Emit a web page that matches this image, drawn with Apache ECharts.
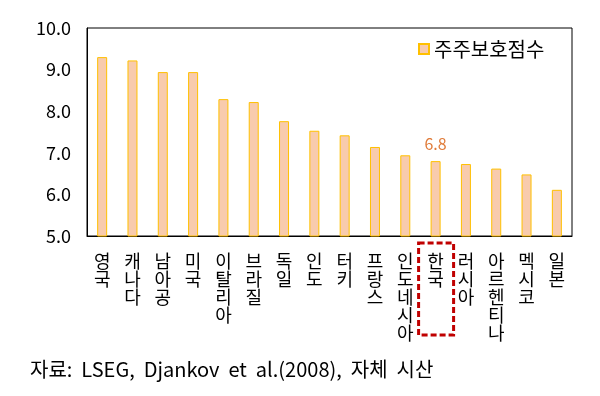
<!DOCTYPE html>
<html>
<head>
<meta charset="utf-8">
<script src="https://cdn.jsdelivr.net/npm/echarts@6/dist/echarts.min.js"></script>
<style>html,body{margin:0;padding:0;background:#fff;}#c{width:600px;height:396px;}</style>
</head>
<body>
<div id="c"></div>
<script>
const categories = ['영국','캐나다','남아공','미국','이탈리아','브라질','독일','인도','터키','프랑스','인도네시아','한국','러시아','아르헨티나','멕시코','일본'];
const scores = [9.30, 9.22, 8.94, 8.94, 8.29, 8.22, 7.76, 7.53, 7.42, 7.14, 6.94, 6.8, 6.73, 6.62, 6.48, 6.11];
const yTicks = [5, 6, 7, 8, 9, 10];
const seriesName = '주주보호점수';
const highlight = '한국';
const sourceText = '자료:  LSEG,  Djankov  et  al.(2008),  자체  시산';

const FONT = '"Noto Sans CJK KR", "Noto Sans", sans-serif';
const chart = echarts.init(document.getElementById('c'), null, {renderer: 'canvas'});
const baseOption = {
  animation: false,
  textStyle: {fontFamily: FONT},
  grid: {left: 87, top: 28, right: 28, bottom: 160, show: true, borderColor: '#000', borderWidth: 1, backgroundColor: 'transparent'},
  legend: {
    data: [seriesName], left: 413, top: 34, itemWidth: 10, itemHeight: 10, itemGap: 5,
    icon: 'rect',
    textStyle: {fontFamily: FONT, fontSize: 20, color: '#000'}
  },
  xAxis: {
    type: 'category', data: categories,
    axisLine: {show: true, lineStyle: {color: '#000', width: 1}},
    axisTick: {show: false},
    axisLabel: {
      interval: 0, margin: 16, color: '#000', fontFamily: FONT, fontSize: 18, lineHeight: 18,
      verticalAlign: 'top',
      formatter: v => v.split('').join('\n')
    }
  },
  yAxis: {
    type: 'value', min: yTicks[0], max: yTicks[yTicks.length - 1], interval: 1,
    axisLine: {show: true, lineStyle: {color: '#000'}},
    axisTick: {show: false},
    splitLine: {show: false},
    axisLabel: {margin: 16, color: '#000', fontFamily: FONT, fontSize: 18, formatter: v => v.toFixed(1)}
  },
  series: [{
    name: seriesName, type: 'bar', barWidth: 10,
    itemStyle: {color: '#F8CBAD', borderColor: '#FFC000', borderWidth: 1},
    data: scores.map((v, i) => categories[i] === highlight ? {
      value: v,
      label: {show: true, position: 'top', distance: 9, color: '#E07B39', fontSize: 16, fontFamily: FONT, formatter: p => p.value.toFixed(1)}
    } : v)
  }]
};
chart.setOption(baseOption);

const cx = chart.convertToPixel({xAxisIndex: 0}, highlight);
const baseY = chart.convertToPixel({yAxisIndex: 0}, yTicks[0]);
chart.setOption({
  graphic: [{
    type: 'text', left: 30, top: 359,
    style: {text: sourceText, fontFamily: FONT, fontSize: 20, fill: '#000'}
  }, {
    type: 'rect',
    shape: {x: cx - 17, y: baseY + 7, width: 35, height: 92},
    style: {fill: 'none', stroke: '#C00000', lineWidth: 3, lineDash: [6, 3]},
    z: 100
  }]
});
</script>
</body>
</html>
